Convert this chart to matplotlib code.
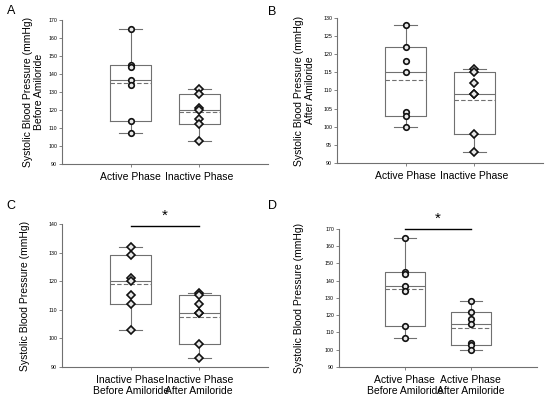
import numpy as np
import matplotlib
matplotlib.use('Agg')
import matplotlib.pyplot as plt

plt.rcParams['font.family'] = ['Liberation Sans', 'DejaVu Sans']

# Systolic blood pressure values (mmHg)
active_before = [165, 145, 144, 137, 134, 114, 107]
inactive_before = [132, 129, 121, 120, 115, 112, 103]
active_after = [128, 122, 118, 115, 104, 103, 100]
inactive_after = [116, 115, 112, 109, 109, 98, 93]

ylab = 'Systolic Blood Pressure (mmHg)'
grey = '#707070'

def box_stats(d):
    d = np.asarray(d, float)
    q1, q3 = np.percentile(d, [25, 75], method='weibull')
    return dict(med=np.median(d), q1=q1, q3=q3, whislo=d.min(), whishi=d.max(),
                mean=d.mean(), fliers=[])

def panel(rect, groups, markers, ticklabels, ylim, step, ylabel, labx, letter, lpos, sig=None):
    ax = fig.add_axes(rect)
    stats = [box_stats(g) for g in groups]
    ax.bxp(stats, positions=[1, 2], widths=0.6, showmeans=True, meanline=True,
           boxprops=dict(color=grey, lw=0.8),
           medianprops=dict(color=grey, lw=0.8),
           meanprops=dict(color=grey, lw=0.8, ls=(0, (4, 2))),
           whiskerprops=dict(color=grey, lw=0.8),
           capprops=dict(color=grey, lw=0.8), capwidths=0.33)
    for i, (g, m) in enumerate(zip(groups, markers)):
        ax.plot(np.full(len(g), i + 1), g, ls='none', marker=m, ms=4.0 if m == 'o' else 3.6,
                mfc='#e8e8e8', mec='#111111', mew=1.2, zorder=5)
    ax.set_xlim(0, 3)
    ax.set_ylim(*ylim)
    ax.set_yticks(np.arange(ylim[0], ylim[1] + 0.1, step))
    ax.set_xticks([1, 2])
    ax.set_xticklabels(ticklabels, fontsize=7.5, linespacing=1.15)
    ax.tick_params(axis='y', labelsize=3.8, length=2, width=0.6, color=grey, pad=1.5)
    ax.tick_params(axis='x', length=2, width=0.6, color=grey, pad=3.5)
    for s in ['top', 'right']:
        ax.spines[s].set_visible(False)
    for s in ['left', 'bottom']:
        ax.spines[s].set_color(grey)
        ax.spines[s].set_linewidth(0.8)
    ax.set_ylabel(ylabel, fontsize=7.5, linespacing=1.15)
    ax.yaxis.set_label_coords(labx, 0.5)
    fig.text(lpos[0], lpos[1], letter, fontsize=9, ha='left', va='center')
    if sig is not None:
        ax.plot([1, 2], [sig, sig], color='black', lw=1.0, clip_on=False)
        ax.annotate('*', (1.5, sig), xytext=(0, 7), textcoords='offset points',
                    fontsize=11, ha='center', va='center', annotation_clip=False)
    return ax

fig = plt.figure(figsize=(5.5, 4.04), dpi=100)

panel([0.1127, 0.594, 0.3745, 0.356], [active_before, inactive_before], ['o', 'D'],
      ['Active Phase', 'Inactive Phase'], (90, 170), 10,
      ylab + '\nBefore Amiloride', -0.087, 'A', (0.012, 0.972))
panel([0.6127, 0.5965, 0.3745, 0.359], [active_after, inactive_after], ['o', 'D'],
      ['Active Phase', 'Inactive Phase'], (90, 130), 5,
      ylab + '\nAfter Amiloride', -0.107, 'B', (0.487, 0.97))
panel([0.1127, 0.0916, 0.3745, 0.354], [inactive_before, inactive_after], ['D', 'D'],
      ['Inactive Phase\nBefore Amiloride', 'Inactive Phase\nAfter Amiloride'], (90, 140), 10,
      ylab, -0.155, 'C', (0.012, 0.49), sig=139.4)
panel([0.616, 0.0916, 0.36, 0.3416], [active_before, active_after], ['o', 'o'],
      ['Active Phase\nBefore Amiloride', 'Active Phase\nAfter Amiloride'], (90, 170), 10,
      ylab, -0.177, 'D', (0.487, 0.49), sig=170)

fig.savefig('out.png', dpi=100)
